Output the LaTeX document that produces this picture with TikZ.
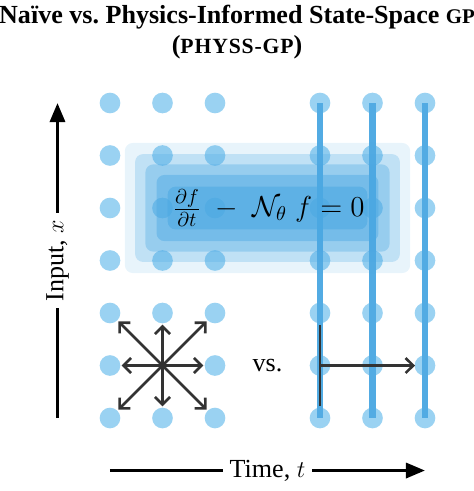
\documentclass[tikz,border=0pt]{standalone}
\usepackage{fontspec}
\setmainfont{Liberation Serif}
\usetikzlibrary{arrows.meta, positioning}
\definecolor{dot-blue}{HTML}{56B4E9}
\definecolor{track-blue}{HTML}{52ABE3}
\definecolor{glow-blue}{HTML}{4BA8E2}
\definecolor{ink}{HTML}{333333}
\newcommand{\fakesc}[2][10.4pt]{{\fontsize{#1}{12pt}\selectfont #2}}
\tikzset{
  grid-dot/.style={
    circle, fill=dot-blue, fill opacity=0.6, inner sep=0pt, minimum size=10.3pt
  },
  track/.style={draw=track-blue, line width=3pt},
  glow/.style={fill=glow-blue, rounded corners=4pt, inner sep=0pt},
  pde-text/.style={font=\fontsize{14.5pt}{16pt}\selectfont, inner sep=0pt},
  label-text/.style={font=\fontsize{13pt}{15pt}\selectfont},
  title-text/.style={font=\fontsize{13pt}{15pt}\selectfont\bfseries},
  step-arrow/.style={-{Straight Barb[length=3.8pt, width=7.5pt]}, line width=1.3pt, draw=ink},
  slice/.style={line width=1.4pt, draw=ink},
  axis/.style={-{Triangle[length=9.5pt, width=7.5pt]}, line width=1.6pt, draw=black},
  axis-label/.style={label-text, fill=white}
}

\begin{document}
\begin{tikzpicture}[x=0.92cm, y=0.92cm]
  \useasboundingbox (-2.095,-1.390) rectangle (6.933,7.962);

  % title
  \node[title-text] (title)   at (2.42,7.638) {Naïve vs.\ Physics-Informed State-Space \fakesc{GP}};
  \node[title-text] (acronym) at (2.42,7.067) {(\fakesc[10.8pt]{\addfontfeature{LetterSpace=4}PHYSS-GP})};

  % collocation points, no point under the hub
  \foreach \c in {0,1,2,4,5,6}
    \foreach \r in {0,...,6}
      {\ifnum\c\r=11 \else \node[grid-dot] (d\c\r) at (\c,\r) {}; \fi}

  % state-space tracks
  \foreach \c in {4,5,6}
    \draw[track] (d\c6.center) -- (d\c0.center);

  % physics prior
  \foreach \k/\w/\h/\op in {1/5.00/2.28/0.13, 2/4.64/1.89/0.25, 3/4.28/1.53/0.35, 4/3.89/1.16/0.45, 5/3.50/0.75/0.55}
    \node[glow, minimum width=\w cm, minimum height=\h cm, fill opacity=\op] (glow\k) at (3,4) {};
  \node[pde-text] (pde) at (3.02,4) {$\frac{\partial f}{\partial t} \;-\; \mathcal{N}_\theta\; f = 0$};

  % naive GP: every point talks to every point
  \coordinate (hub) at (1,1);
  \foreach \ang/\len in {0/0.78, 45/1.19, 90/0.78, 135/1.19, 180/0.78, 225/1.19, 270/0.78, 315/1.19}
    {\path (hub) ++(\ang:\len) coordinate (spoke\ang);
     \draw[step-arrow] (hub) -- (spoke\ang);}

  \node[label-text] (vs) at (3,1) {vs.};

  % PHYSS-GP: one time slice to the next
  \coordinate (slice-top) at (4,1.77);
  \coordinate (slice-bot) at (4,0.23);
  \draw[slice] (slice-top) -- (slice-bot);
  \coordinate (next) at (5.81,1);
  \draw[step-arrow] (d41.center) -- (next);

  % axes
  \coordinate (x-lo) at (-1,0);
  \coordinate (x-hi) at (-1,6);
  \draw[axis] (x-lo) -- node[axis-label, rotate=90] {Input, $x$} (x-hi);
  \coordinate (t-lo) at (0,-1);
  \coordinate (t-hi) at (6,-1);
  \draw[axis] (t-lo) -- node[axis-label] {Time, $t$} (t-hi);
\end{tikzpicture}
\end{document}
